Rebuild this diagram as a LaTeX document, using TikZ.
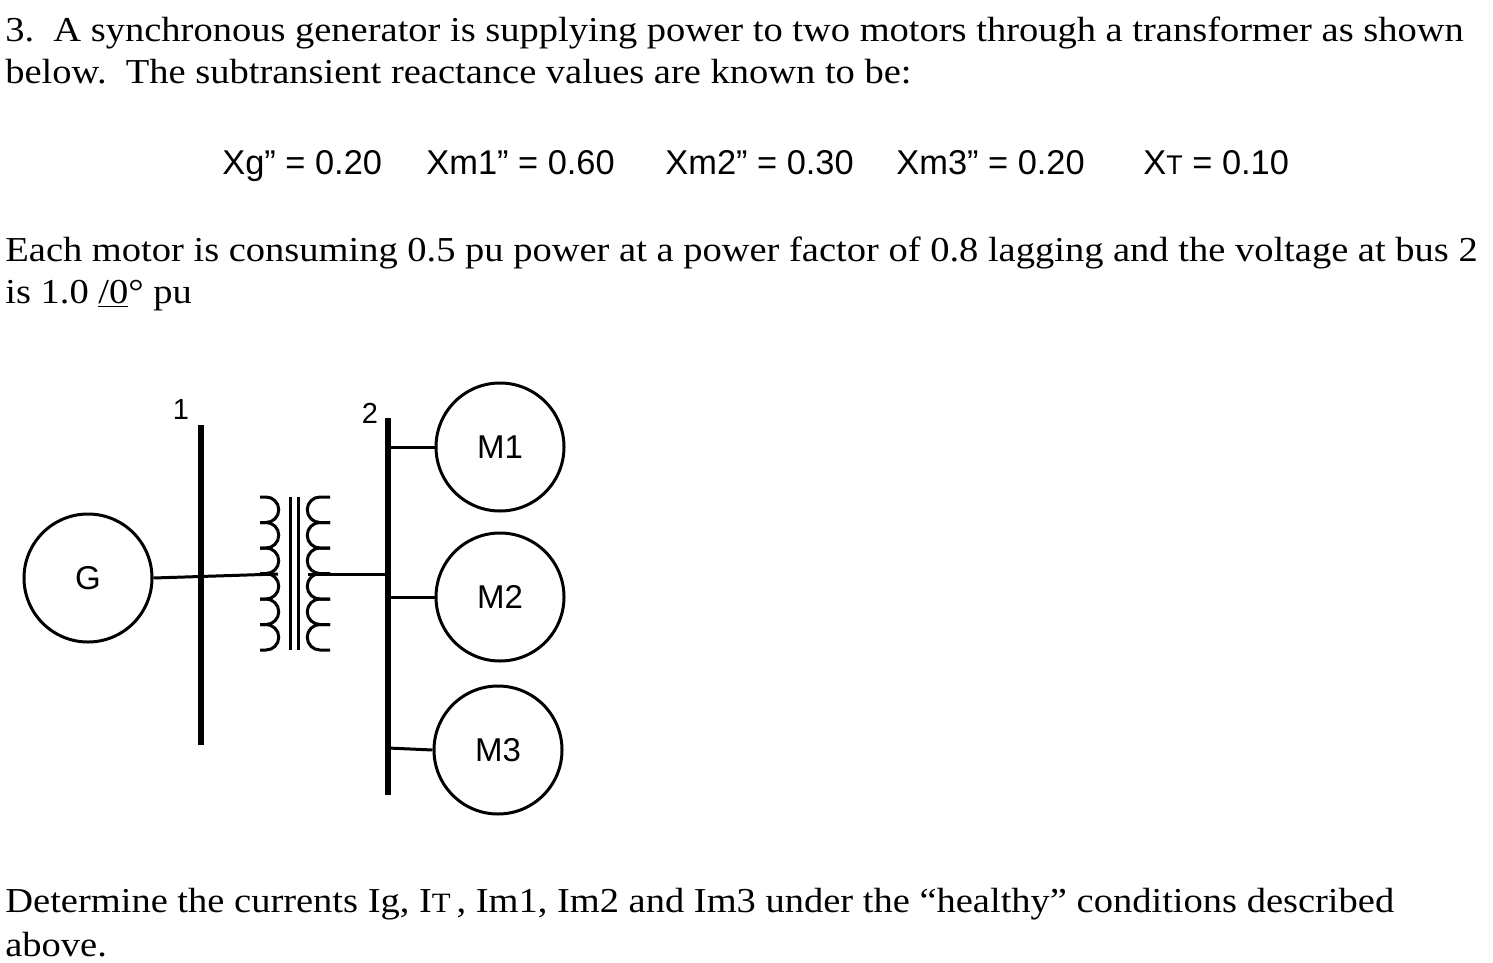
\documentclass[tikz,border=0pt]{standalone}
\usepackage{fontspec}
\setmainfont[FakeStretch=1.1]{Liberation Serif}
\newfontfamily\lsans{Liberation Sans}
\begin{document}
\begin{tikzpicture}[x=0.5pt,y=-0.5pt,
  txt/.style={anchor=base west,inner sep=0pt,font=\fontsize{17.5}{21}\selectfont},
  eq/.style={anchor=base west,inner sep=0pt,font=\lsans\fontsize{17.2}{20}\selectfont},
  mach/.style={circle,draw,line width=1.5pt,minimum size=64pt,inner sep=0pt,font=\lsans\fontsize{16.5}{18}\selectfont},
  bus/.style={line width=3pt},
  wire/.style={line width=1.5pt},
  lbl/.style={font=\lsans\fontsize{14.5}{16}\selectfont,inner sep=0pt}]
\useasboundingbox (0,0) rectangle (1493,963);
\node[txt] (l1) at (5,42) {3.\ \ A synchronous generator is supplying power to two motors through a transformer as shown};
\node[txt] (l2) at (5,84) {below.\ \ The subtransient reactance values are known to be:};
\node[eq] (e1) at (222,174) {Xg” = 0.20};
\node[eq] (e2) at (426,174) {Xm1” = 0.60};
\node[eq] (e3) at (665,174) {Xm2” = 0.30};
\node[eq] (e4) at (896,174) {Xm3” = 0.20};
\node[eq] (e5) at (1143,174) {X{\fontsize{13.5}{15}\selectfont T} = 0.10};
\node[txt] (l3) at (5,261) {Each motor is consuming 0.5 pu power at a power factor of 0.8 lagging and the voltage at bus 2};
\node[txt] (l4) at (5,303) {is 1.0 \underline{/0}° pu};
\node[txt] (l5) at (5,912) {Determine the currents Ig, I{\fontsize{14}{16}\selectfont T}\,, Im1, Im2 and Im3 under the “healthy” conditions described};
\node[txt] (l6) at (5,956) {above.};
% diagram
\node[mach] (G) at (88,578) {G};
\node[mach] (M1) at (500,447) {M1};
\node[mach] (M2) at (500,597) {M2};
\node[mach] (M3) at (498,750) {M3};
\coordinate (b1t) at (201,425); \coordinate (b1b) at (201,745);
\coordinate (b2t) at (388,418); \coordinate (b2b) at (388,795);
\draw[bus] (b1t) -- (b1b);
\draw[bus] (b2t) -- (b2b);
\node[lbl] (n1) at (181,410) {1};
\node[lbl] (n2) at (370,413) {2};
\coordinate (cl) at (278,574); \coordinate (cr) at (308,574);
\draw[wire] (G.east) -- (cl);
\draw[wire] (cr) -- (388,574);
\draw[wire] (388,447) -- (M1.west);
\draw[wire] (388,597) -- (M2.west);
\draw[wire] (388,748) -- (M3.west);
% coils
\foreach \i in {0,...,5}{
  \draw[wire] (260,497+25.5*\i) -- (266,497+25.5*\i) arc[start angle=90,end angle=-90,radius=6.375pt] -- (260,522.5+25.5*\i);
  \draw[wire] (330,497+25.5*\i) -- (320,497+25.5*\i) arc[start angle=90,end angle=270,radius=6.375pt] -- (330,522.5+25.5*\i);
}
\draw[wire] (290,497) -- (290,650);
\draw[wire] (298,497) -- (298,650);
\end{tikzpicture}
\end{document}
